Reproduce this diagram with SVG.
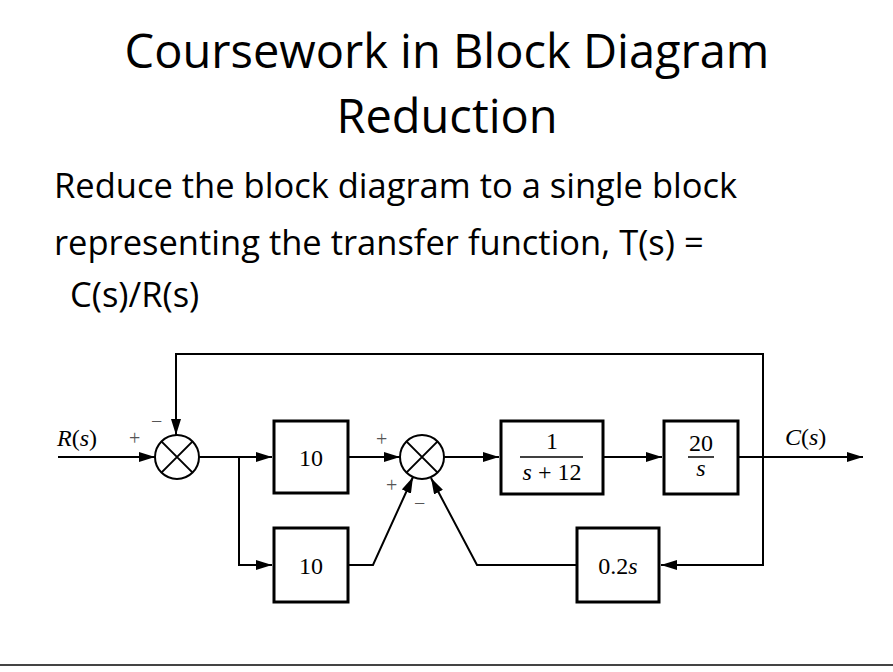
<svg xmlns="http://www.w3.org/2000/svg" width="893" height="672" viewBox="0 0 893 672">
<style>
.t{font-family:"Open Sans","Liberation Sans",sans-serif;fill:#000}
.b{fill:#fff;stroke:#000;stroke-width:3}
.l{fill:none;stroke:#000;stroke-width:2}
.m{font-family:"Liberation Serif",serif;font-size:24px;fill:#000}
.g{font-family:"Liberation Serif",serif;font-size:20px;fill:#555}
</style>
<defs><marker id="a" markerWidth="16" markerHeight="10" refX="16" refY="5" orient="auto" markerUnits="userSpaceOnUse"><path d="M0,0L16,5L0,10z" fill="#000"/></marker></defs>
<rect width="893" height="672" fill="#fff"/>
<text class="t" x="447" y="68" font-size="47" text-anchor="middle">Coursework in Block Diagram</text>
<text class="t" x="447" y="133" font-size="47" text-anchor="middle">Reduction</text>
<text class="t" x="54" y="198" font-size="34.5">Reduce the block diagram to a single block</text>
<text class="t" x="54" y="255" font-size="34.5">representing the transfer function, T(s) =</text>
<text class="t" x="70" y="307" font-size="34.5">C(s)/R(s)</text>
<g id="connectors" class="l">
<path d="M58,457H155" marker-end="url(#a)"/>
<path d="M763,457V354H176V435" marker-end="url(#a)"/>
<path d="M199,457H272" marker-end="url(#a)"/>
<path d="M239,457V565H272" marker-end="url(#a)"/>
<path d="M348,457H400" marker-end="url(#a)"/>
<path d="M348,565H373L413,477" marker-end="url(#a)"/>
<path d="M444,457H499" marker-end="url(#a)"/>
<path d="M603,457H662" marker-end="url(#a)"/>
<path d="M738,457H863" marker-end="url(#a)"/>
<path d="M763,457V565H661" marker-end="url(#a)"/>
<path d="M577,565H477L431,478" marker-end="url(#a)"/>
</g>
<g id="sum1"><circle cx="177" cy="457" r="22" class="l"/><path class="l" d="M161.4,441.4L192.6,472.6M192.6,441.4L161.4,472.6"/></g>
<g id="sum2"><circle cx="422" cy="457" r="22" class="l"/><path class="l" d="M406.4,441.4L437.6,472.6M437.6,441.4L406.4,472.6"/></g>
<g id="b1"><rect class="b" x="274" y="421" width="74" height="72"/><text class="m" x="311" y="466" text-anchor="middle">10</text></g>
<g id="b2"><rect class="b" x="274" y="528" width="74" height="74"/><text class="m" x="311" y="574" text-anchor="middle">10</text></g>
<g id="b3"><rect class="b" x="501" y="421" width="102" height="73"/><text class="m" x="552" y="449" text-anchor="middle">1</text><line x1="520" y1="457" x2="583" y2="457" stroke="#000" stroke-width="1.5"/><text class="m" x="552" y="480" text-anchor="middle"><tspan font-style="italic">s</tspan> + 12</text></g>
<g id="b4"><rect class="b" x="664" y="421" width="74" height="73"/><text class="m" x="701" y="451" text-anchor="middle">20</text><line x1="688" y1="457" x2="714" y2="457" stroke="#000" stroke-width="1.5"/><text class="m" x="701" y="476" text-anchor="middle" font-style="italic">s</text></g>
<g id="b5"><rect class="b" x="577" y="528" width="82" height="74"/><text class="m" x="618" y="574" text-anchor="middle">0.2<tspan font-style="italic">s</tspan></text></g>
<text class="m" x="57" y="446"><tspan font-style="italic">R</tspan>(<tspan font-style="italic">s</tspan>)</text>
<text class="m" x="785" y="445"><tspan font-style="italic">C</tspan>(<tspan font-style="italic">s</tspan>)</text>
<text class="g" x="129" y="445">+</text><text class="g" x="151" y="428">−</text>
<text class="g" x="376" y="446">+</text><text class="g" x="386" y="492">+</text><text class="g" x="414" y="510">−</text>
<line x1="0" y1="665" x2="893" y2="665" stroke="#444" stroke-width="2"/>
</svg>
